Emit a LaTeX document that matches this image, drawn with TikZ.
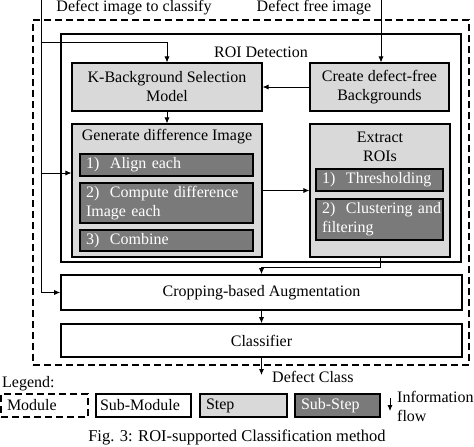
\documentclass[tikz,border=0pt]{standalone}
\usepackage{fontspec}
\setmainfont{Liberation Serif}
\usetikzlibrary{arrows.meta}
\definecolor{stepgray}{HTML}{D9D9D9}
\definecolor{subgray}{HTML}{7A7A7A}
\begin{document}
\begin{tikzpicture}[x=1pt,y=-1pt,
  every node/.style={font=\fontsize{16}{19}\selectfont, inner sep=0pt},
  module/.style={draw, line width=1.5pt, dash pattern=on 7pt off 4pt},
  submod/.style={draw, fill=white, line width=1.6pt},
  stepbox/.style={draw, fill=stepgray, line width=1.1pt, align=center},
  substep/.style={draw, fill=subgray, text=white, line width=1.1pt, align=left, inner xsep=6pt},
  flow/.style={-{Latex[length=6pt,width=5pt]}, line width=0.8pt}]
\useasboundingbox (0,0) rectangle (474,447);

% module and sub-modules
\node[module, minimum width=436pt, minimum height=345pt] (mod) at (251,192.5) {};
\node[submod, minimum width=400pt, minimum height=228pt] (roi) at (261,148) {};
\node (roit) at (261,52) {ROI Detection};

% steps
\node[stepbox, minimum width=190pt, minimum height=48pt] (kb) at (167,87) {K-Background Selection\\Model};
\node[stepbox, minimum width=139pt, minimum height=48pt] (create) at (379.5,87) {Create defect-free\\Backgrounds};
\node[stepbox, minimum width=190pt, minimum height=133pt] (gen) at (167,190.5) {};
\node (gent) at (167,137) {Generate difference Image};
\node[stepbox, minimum width=140pt, minimum height=133pt] (ext) at (380,190.5) {};
\node[align=center] (extt) at (380,146.5) {Extract\\ROIs};

% sub-steps
\node[substep, text width=161pt, minimum height=22pt] (s1) at (166.5,165) {1)\ \ Align each};
\node[substep, text width=161pt, minimum height=40pt] (s2) at (166.5,203) {\mbox{2)\ \ Compute difference}\\Image each};
\node[substep, text width=161pt, minimum height=21pt] (s3) at (166.5,240.5) {3)\ \ Combine};
\node[substep, text width=115pt, minimum height=22pt] (r1) at (379.5,180) {1)\ \ Thresholding};
\node[substep, text width=115pt, minimum height=41pt] (r2) at (379.5,219.5) {\mbox{2)\ \ Clustering and}\\filtering};

% sub-modules below
\node[submod, minimum width=401pt, minimum height=35pt] (crop) at (261.5,292.5) {Cropping-based Augmentation};
\node[submod, minimum width=401pt, minimum height=33pt] (cls) at (261.5,340.5) {Classifier};

% inputs and outputs
\node (t1) at (134,8) {Defect image to classify};
\node (t2) at (314,8) {Defect free image};
\node[anchor=west] (t3) at (272,377) {Defect Class};

\coordinate (in1) at (41,0);
\coordinate (in2) at (381,0);
\coordinate (j1) at (41,42);
\coordinate (j2) at (41,173);
\coordinate (out) at (261.5,375);

\draw[flow] (in1) |- (crop.west);
\draw[flow] (j1) -| (kb.north);
\draw[flow] (j2) -- (j2 -| gen.west);
\draw[flow] (in2) -- (in2 |- create.north);
\draw[flow] (create.west) -- (kb.east);
\draw[flow] (kb.south) -- (gen.north);
\draw[flow] (gen.east) -- (ext.west);
\draw[flow] (ext.south) -- ++(0,10) -| (crop.north);
\draw[flow] (crop.south) -- (cls.north);
\draw[flow] (cls.south) -- (out);

% legend
\node[anchor=west] (leg) at (2,384) {Legend:};
\node[module, text width=75pt, inner xsep=6pt, minimum height=23pt, align=left] (lm) at (44.5,405.5) {Module};
\node[submod, text width=87pt, inner xsep=4pt, minimum height=23pt, align=left] (ls) at (143.5,405.5) {Sub-Module};
\node[stepbox, text width=75pt, inner xsep=6pt, minimum height=23pt, align=left] (lst) at (243.5,405.5) {Step};
\node[substep, text width=73pt, minimum height=23pt] (lss) at (337.5,405.5) {Sub-Step};
\coordinate (la1) at (390,398);
\coordinate (la2) at (390,411);
\draw[flow] (la1) -- (la2);
\node[anchor=west, align=left] (linfo) at (397,406) {Information\\flow};

% caption
\node[font=\fontsize{16.5}{19}\selectfont] (cap) at (237,437) {Fig. 3: ROI-supported Classification method};
\end{tikzpicture}
\end{document}
